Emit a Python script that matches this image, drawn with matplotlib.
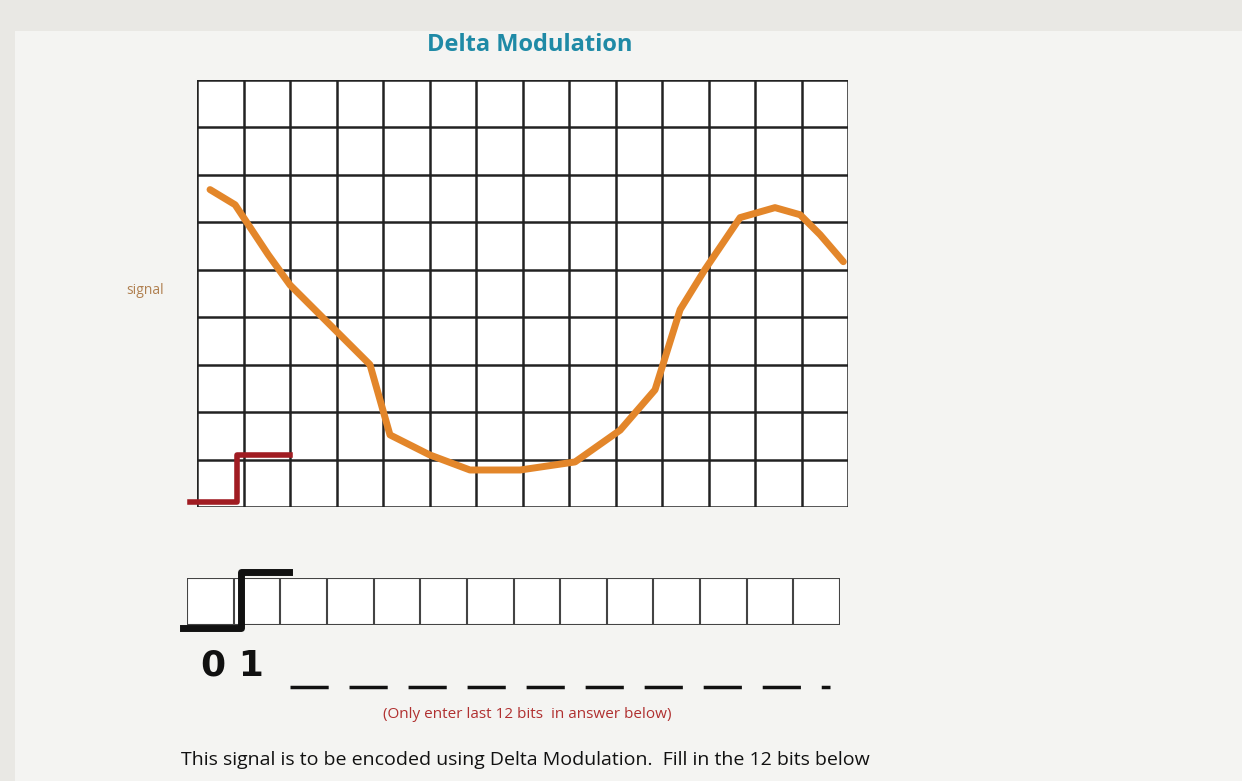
import matplotlib
matplotlib.use("Agg")
import matplotlib.pyplot as plt
from matplotlib.lines import Line2D

sig_x = [0.28, 0.82, 1.53, 2.0, 2.86, 3.72, 4.15, 5.0, 5.87, 6.95, 8.13, 9.1, 9.85, 10.39, 10.92, 11.68, 12.43, 12.97, 13.4, 13.9]
sig_y = [6.69, 6.37, 5.32, 4.68, 3.84, 3.0, 1.52, 1.1, 0.78, 0.78, 0.95, 1.62, 2.47, 4.16, 5.0, 6.1, 6.31, 6.16, 5.74, 5.17]
step_x = [-0.15, 0.86, 0.86, 2.0]
step_y = [0.1, 0.1, 1.1, 1.1]
bit_x = [-0.09, 1.15, 1.15, 2.18]
bit_y = [-0.06, -0.06, 1.13, 1.13]
n_cols, n_rows = 14, 9

W, H = 1242, 781
fig = plt.figure(figsize=(W/100, H/100), dpi=100)
fig.patch.set_facecolor('#e9e8e4')
bg = fig.add_axes([0.012, 0.0, 0.988, 0.96])
bg.set_facecolor('#f4f4f2'); bg.set_xticks([]); bg.set_yticks([])
for s in bg.spines.values(): s.set_visible(False)

ax = fig.add_axes([197/W, 1-507/H, 651/W, 427/H])
ax.set_xlim(0, n_cols); ax.set_ylim(0, n_rows)
ax.set_facecolor('white')
for i in range(n_cols+1):
    ax.axvline(i, color='#222222', lw=1.8)
for j in range(n_rows+1):
    ax.axhline(j, color='#222222', lw=1.8)
ax.set_xticks([]); ax.set_yticks([])
for s in ax.spines.values(): s.set_visible(False)
ax.plot(sig_x, sig_y, color='#e3862a', lw=5, solid_capstyle='round', solid_joinstyle='round')
ax.plot(step_x, step_y, color='#a01c22', lw=4, clip_on=False)

bx = fig.add_axes([187/W, 1-625/H, 653/W, 47/H])
bx.set_xlim(0, n_cols); bx.set_ylim(0, 1)
bx.set_facecolor('white')
for i in range(n_cols+1):
    bx.axvline(i, color='#444444', lw=1.5)
for j in (0, 1):
    bx.axhline(j, color='#444444', lw=1.5)
bx.set_xticks([]); bx.set_yticks([])
for s in bx.spines.values(): s.set_visible(False)
bx.plot(bit_x, bit_y, color='#111111', lw=5, clip_on=False)

# answer blanks
fig.add_artist(Line2D([290/W, 830/W], [1-687/H, 1-687/H], color='#111111', lw=2.5,
                      linestyle=(0, (11, 6))))

fig.text(530/W, 1-45/H, 'Delta Modulation', color='#1f8aa6', fontsize=17, fontweight='bold', ha='center', va='center', family='Open Sans')
fig.text(145/W, 1-290/H, 'signal', color='#b08050', fontsize=10, ha='center', va='center', family='Open Sans')
fig.text(232/W, 1-665/H, '0 1', color='#111111', fontsize=26, fontweight='bold', ha='center', va='center')
fig.text(527/W, 1-714/H, '(Only enter last 12 bits  in answer below)', color='#b03030', fontsize=11, ha='center', va='center', family='Open Sans')
fig.text(525/W, 1-760/H, 'This signal is to be encoded using Delta Modulation.  Fill in the 12 bits below', color='#111111', fontsize=14, ha='center', va='center', family='Open Sans')
fig.savefig('out.png', dpi=100)
